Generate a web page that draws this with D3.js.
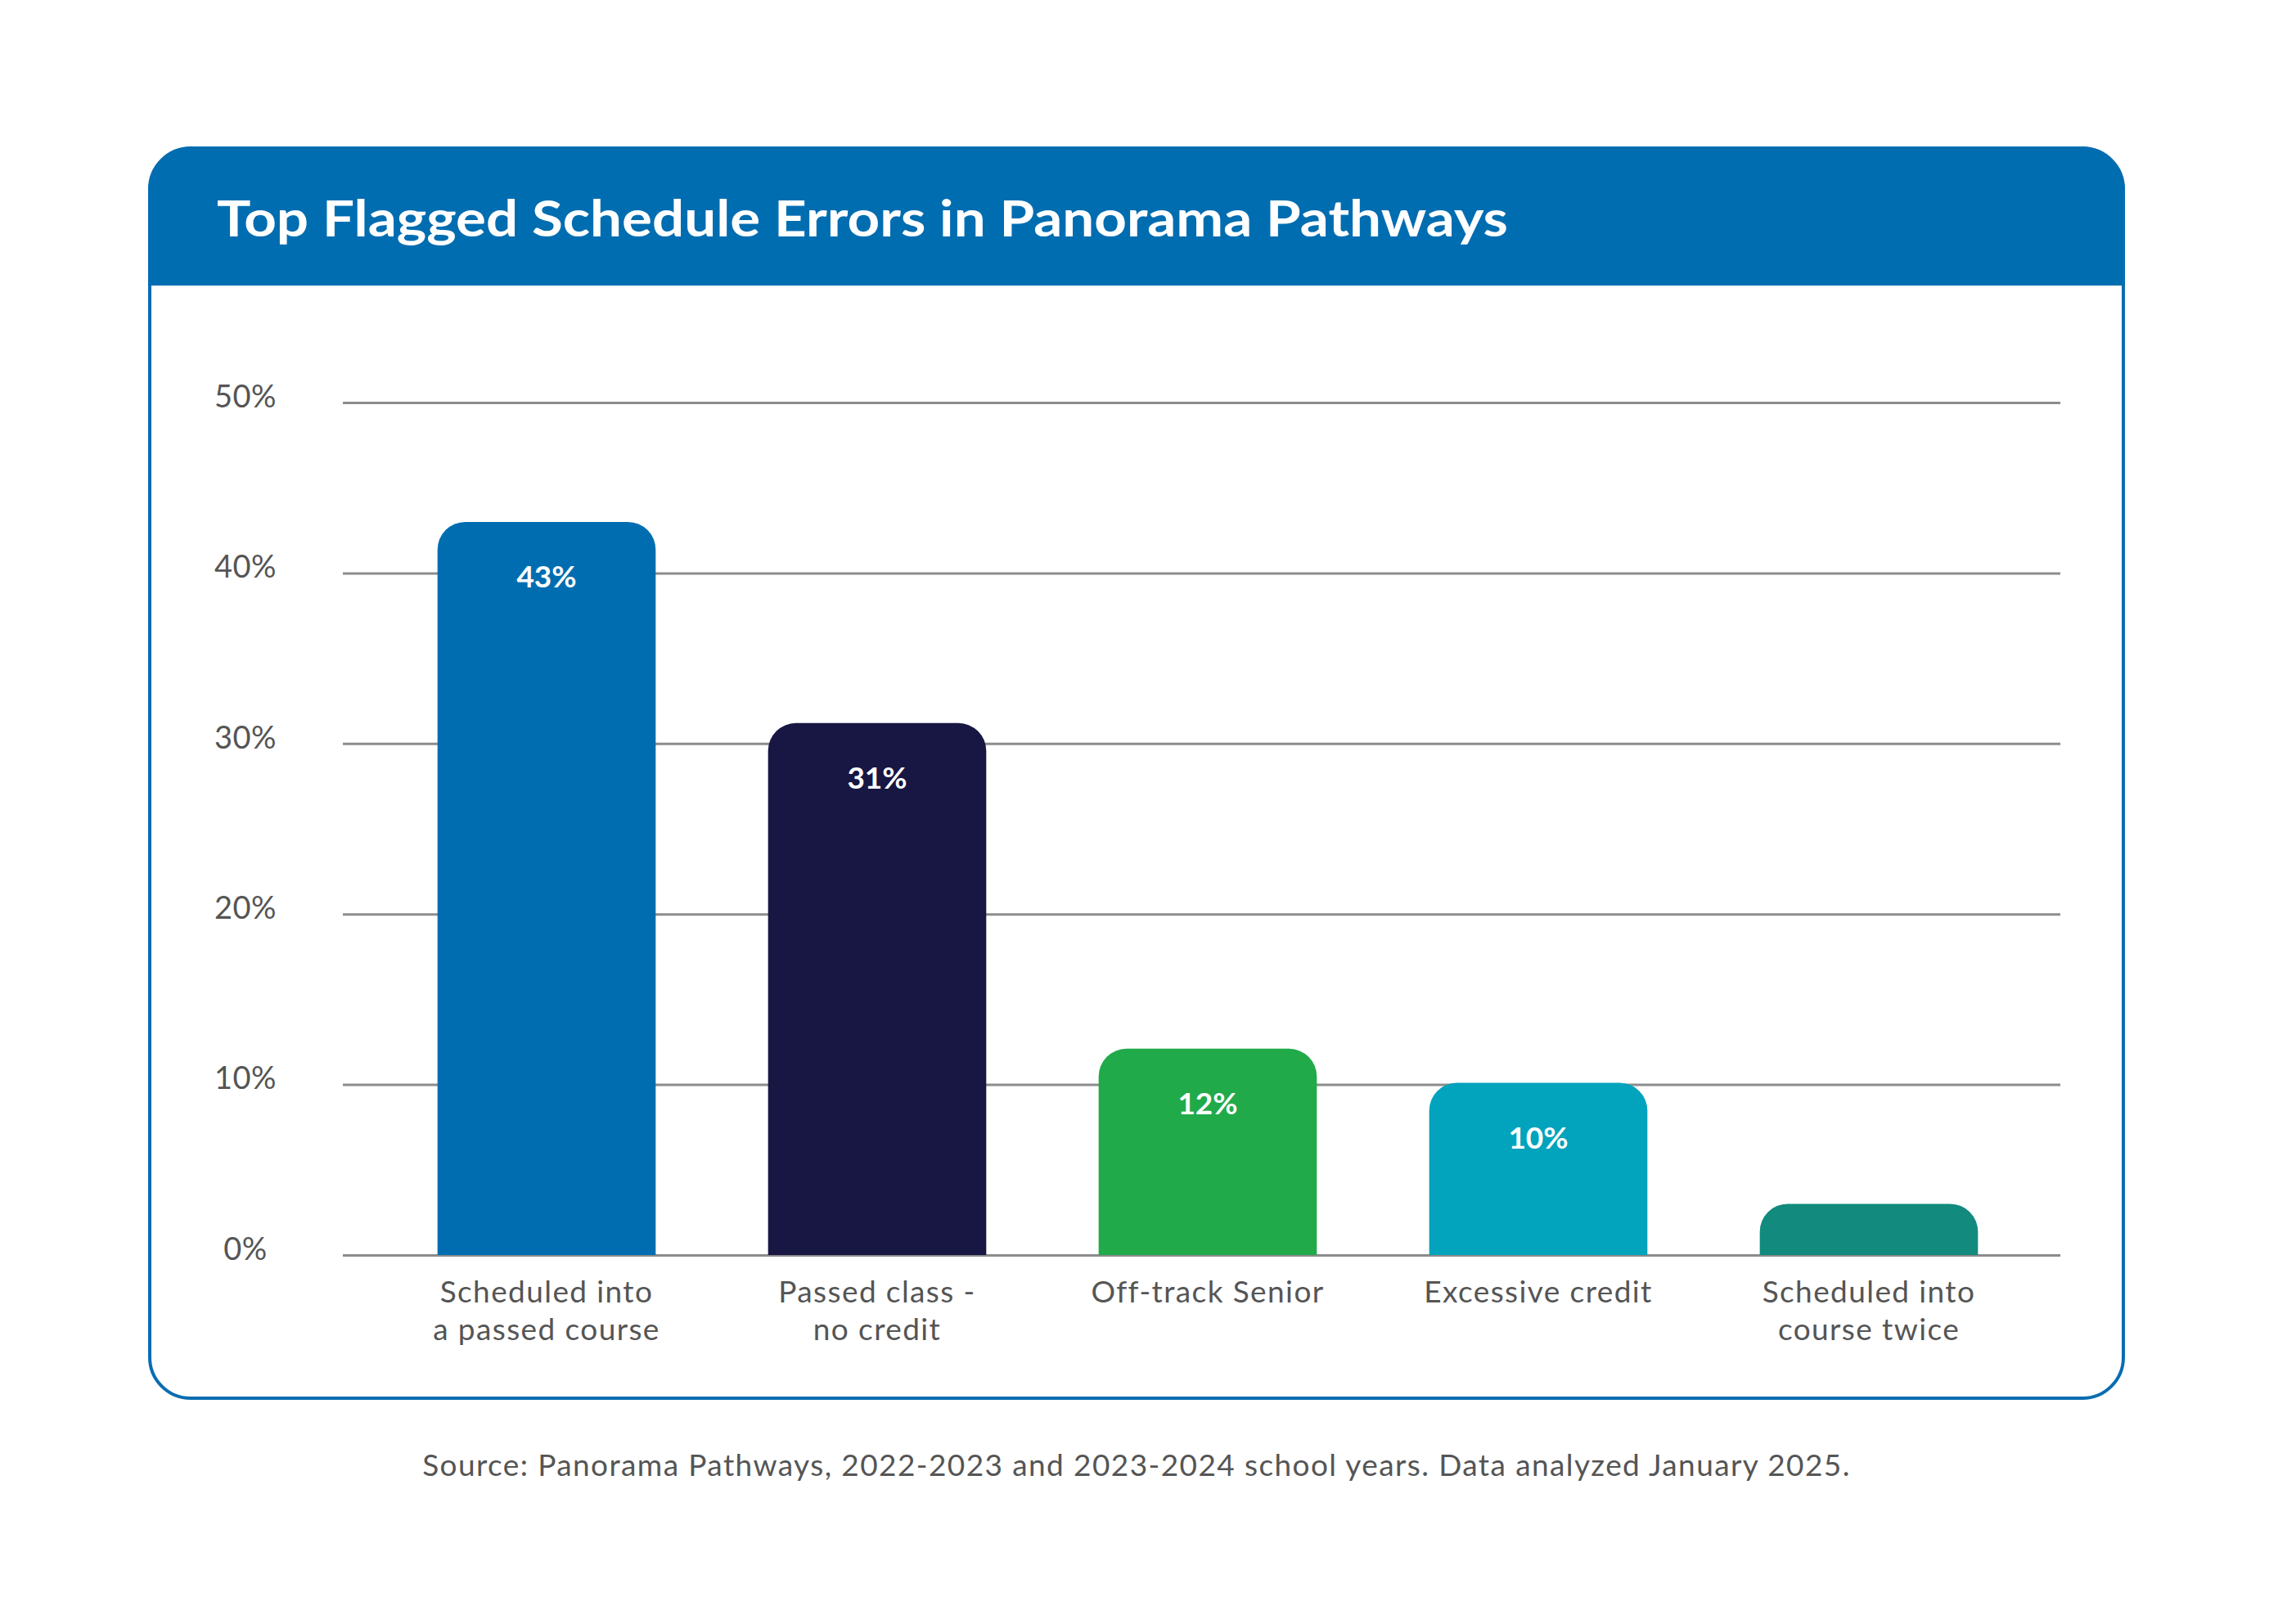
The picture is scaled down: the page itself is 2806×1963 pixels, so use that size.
<!DOCTYPE html>
<html>
<head>
<meta charset="utf-8">
<script src="https://cdn.jsdelivr.net/npm/d3@7/dist/d3.min.js"></script>
<style>
  body { margin: 0; background: #ffffff; }
  text { font-family: Lato, "Open Sans", sans-serif; }
</style>
</head>
<body>
<div id="chart"></div>
<script>

      ////// Data //////////////////////////////
      var categories = [
          ["Scheduled into", "a passed course"],
          ["Passed class -", "no credit"],
          ["Off-track Senior"],
          ["Excessive credit"],
          ["Scheduled into", "course twice"]
      ];
      var values = [43, 31.2, 12.1, 10.1, 3];
      var valueLabels = ["43%", "31%", "12%", "10%", ""];
      var yTicks = [0, 10, 20, 30, 40, 50];
      var barColors = ["#016db1", "#181642", "#21aa4a", "#02a3bd", "#128a7d"];

      var titleText = "Top Flagged Schedule Errors in Panorama Pathways";
      var sourceText = "Source: Panorama Pathways, 2022-2023 and 2023-2024 school years. Data analyzed January 2025.";

      var width = 2806,
          height = 1963;

      var card = {left: 181, top: 179, right: 2597, bottom: 1711, header: 349};
      var plot = {left: 419, right: 2518, top: 492, bottom: 1534};

      var svg = d3.select("#chart").append("svg")
          .attr("width", width)
          .attr("height", height);

      svg.append("rect")
          .attr("width", width)
          .attr("height", height)
          .attr("fill", "#ffffff");

      ////// Card + header //////////////////////
      svg.append("rect")
          .attr("x", card.left + 2)
          .attr("y", card.top + 2)
          .attr("width", card.right - card.left - 4)
          .attr("height", card.bottom - card.top - 4)
          .attr("rx", 50)
          .attr("fill", "#ffffff")
          .attr("stroke", "#0a6db1")
          .attr("stroke-width", 4);

      svg.append("path")
          .attr("d", topRounded(card.left, card.top, card.right - card.left, card.header - card.top, 55))
          .attr("fill", "#016db1");

      svg.append("text")
          .attr("x", 265)
          .attr("y", 289)
          .attr("fill", "#ffffff")
          .attr("font-size", 61)
          .attr("font-weight", 700)
          .attr("textLength", 1578)
          .attr("lengthAdjust", "spacingAndGlyphs")
          .text(titleText);

      ////// Scales //////////////////////////////
      var keys = categories.map(function(c) { return c.join(" "); });

      var xScale = d3.scaleBand()
          .domain(keys)
          .range([466, 2486])
          .paddingInner(0.34)
          .paddingOuter(0.17);

      var yScale = d3.scaleLinear()
          .domain([0, 50])
          .range([plot.bottom, plot.top]);

      ////// Grid ////////////////////////////////
      var yGrid = d3.axisLeft().scale(yScale)
          .tickValues(yTicks)
          .tickSize(-(plot.right - plot.left))
          .tickFormat("");

      var grid = svg.append("g")
          .attr("class", "y axis-grid")
          .attr("transform", "translate(" + plot.left + ",0)")
          .call(yGrid);
      grid.select(".domain").remove();
      grid.selectAll("line")
          .attr("stroke", "#8c8c8c")
          .attr("stroke-width", 3);

      // y labels, centred under each other left of the grid
      var yAxis = d3.axisLeft().scale(yScale)
          .tickValues(yTicks)
          .tickSize(0)
          .tickFormat(function(d) { return d + "%"; });

      var yG = svg.append("g")
          .attr("class", "y axis")
          .attr("transform", "translate(" + plot.left + ",0)")
          .call(yAxis);
      yG.select(".domain").remove();
      yG.selectAll("text")
          .attr("x", -119)
          .attr("y", -8)
          .attr("dy", "0.35em")
          .attr("text-anchor", "middle")
          .attr("fill", "#555555")
          .attr("font-size", 38)
          .attr("letter-spacing", "0.5px")
          .attr("font-family", "Lato, sans-serif");

      ////// Bars ////////////////////////////////
      var data = keys.map(function(k, i) {
          return {key: k, value: values[i], label: valueLabels[i], color: barColors[i]};
      });

      svg.append("g")
          .attr("id", "bars")
          .selectAll(".bar")
          .data(data)
          .enter()
          .append("path")
          .attr("class", "bar")
          .attr("fill", function(d) { return d.color; })
          .attr("d", function(d) {
              var y = yScale(d.value);
              return topRounded(xScale(d.key), y, xScale.bandwidth(), plot.bottom - y, 34);
          });

      svg.append("g")
          .selectAll(".vlabel")
          .data(data)
          .enter()
          .append("text")
          .attr("class", "vlabel")
          .attr("x", function(d) { return xScale(d.key) + xScale.bandwidth() / 2; })
          .attr("y", function(d) { return yScale(d.value) + 80; })
          .attr("text-anchor", "middle")
          .attr("fill", "#ffffff")
          .attr("font-size", 37)
          .attr("font-weight", 700)
          .text(function(d) { return d.label; });

      ////// x axis labels ////////////////////////
      var xAxis = d3.axisBottom().scale(xScale).tickSize(0).tickFormat("");

      var xG = svg.append("g")
          .attr("class", "x axis")
          .attr("transform", "translate(0," + plot.bottom + ")")
          .call(xAxis);
      xG.select(".domain").remove();
      xG.selectAll(".tick text").remove();

      xG.selectAll(".tick")
          .append("text")
          .attr("text-anchor", "middle")
          .attr("fill", "#555555")
          .attr("font-size", 37)
          .attr("letter-spacing", "1.4px")
          .attr("font-family", "Lato, sans-serif")
          .each(function(k, i) {
              var t = d3.select(this);
              categories[i].forEach(function(line, j) {
                  t.append("tspan")
                      .attr("x", 0)
                      .attr("y", 58 + j * 46)
                      .text(line);
              });
          });

      ////// Source note /////////////////////////
      svg.append("text")
          .attr("x", (card.left + card.right) / 2)
          .attr("y", 1804)
          .attr("text-anchor", "middle")
          .attr("fill", "#555555")
          .attr("font-size", 37)
          .attr("letter-spacing", "1.4px")
          .text(sourceText);

      function topRounded(x, y, w, h, r) {
          r = Math.min(r, h, w / 2);
          return "M" + x + "," + (y + h) +
                 "V" + (y + r) +
                 "A" + r + "," + r + " 0 0 1 " + (x + r) + "," + y +
                 "H" + (x + w - r) +
                 "A" + r + "," + r + " 0 0 1 " + (x + w) + "," + (y + r) +
                 "V" + (y + h) + "Z";
      }

</script>
</body>
</html>
